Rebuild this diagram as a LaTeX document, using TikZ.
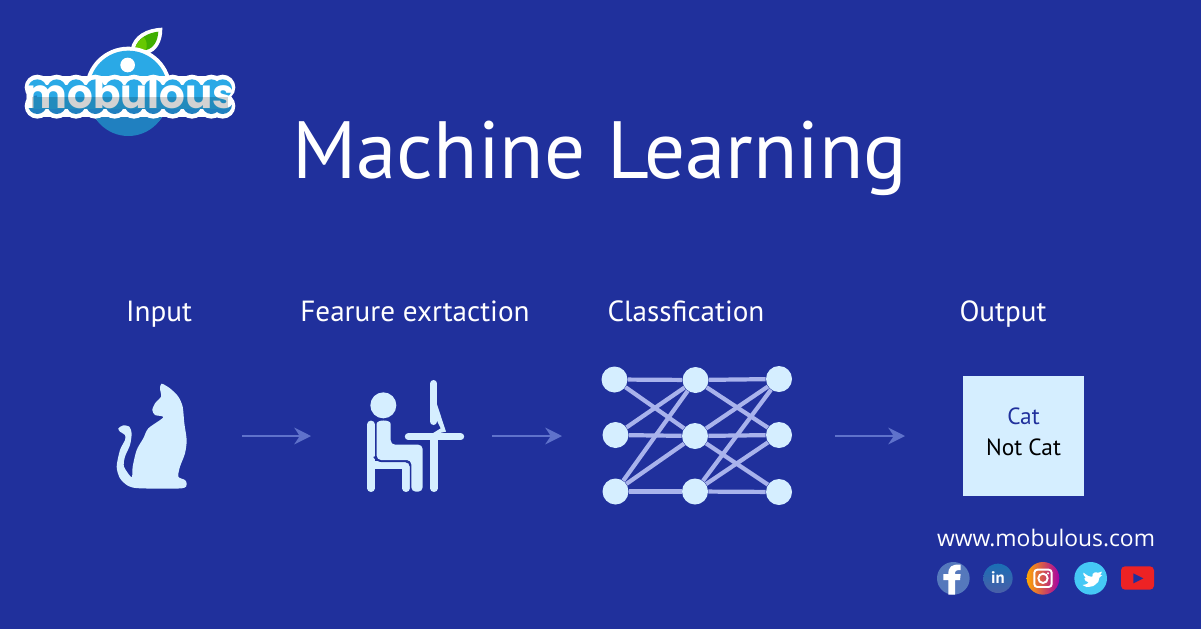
\documentclass[tikz,border=0pt]{standalone}
\usepackage{fontspec}
\setmainfont{PT Sans}
\newfontfamily\logofont{Poppins}
\newfontfamily\sitefont{Open Sans}
\usetikzlibrary{arrows.meta}
\definecolor{bgblue}{HTML}{20309C}
\definecolor{paleblue}{HTML}{D5EEFF}
\definecolor{edgeblue}{HTML}{A9B3EC}
\definecolor{flowblue}{HTML}{5F72CB}
\definecolor{logosky}{HTML}{2AA9E6}
\definecolor{logodeep}{HTML}{2080C0}
\definecolor{leafdark}{HTML}{3FAE00}
\definecolor{leaflight}{HTML}{66C800}
\definecolor{fbblue}{HTML}{5578BC}
\definecolor{inblue}{HTML}{1A6FB5}
\definecolor{inviolet}{HTML}{4A5FA8}
\definecolor{twblue}{HTML}{45C8F5}
\definecolor{ytred}{HTML}{ED2224}
\begin{document}
\begin{tikzpicture}[x=0.02cm,y=-0.02cm]
	\tikzstyle{heading}=[text=white,font=\fontsize{16.6}{18}\selectfont,inner sep=0pt,anchor=base]
	\tikzstyle{neuron}=[circle,inner sep=0pt,minimum width=26*0.02cm,fill=paleblue]
	\tikzstyle{link}=[edgeblue,line width=2.4pt]
	\tikzstyle{flow}=[flowblue,line width=1.2pt,-{Stealth[length=9.5pt,width=9.5pt]}]
	\tikzstyle{limb}=[paleblue,line cap=round,line join=round]
	\useasboundingbox (0,0) rectangle (1201,629);
	\fill[bgblue] (0,0) rectangle (1201,629);

	%% logo
	\begin{scope}[shift={(0,10)},scale=1/3]
		\fill[white] (392,118) .. controls (400,75) and (440,55) .. (487,53) .. controls (488,95) and (470,125) .. (440,132) -- cycle;
		\fill[leafdark] (405,115) .. controls (412,85) and (445,68) .. (475,65) .. controls (473,95) and (460,115) .. (438,120) -- cycle;
		\fill[leaflight] (405,115) .. controls (410,100) and (420,88) .. (432,82) .. controls (442,95) and (442,108) .. (438,120) -- cycle;
		\fill[white] (385,240) circle (130);
		\fill[logosky] (385,240) circle (118);
		\fill[logodeep] (267,260) arc (180:360:118 and -118) -- cycle;
		\fill[white] (383,165) circle (22);
		\foreach \bx in {112,170,228,286,344,402,460,518,576,634,668}{
			\fill[white] (\bx,232) circle (38);
			\fill[white] (\bx,288) circle (38);
		}
		\fill[white] (108,197) rectangle (670,322);
		\foreach \bx in {112,170,228,286,344,402,460,518,576,634,668}{
			\fill[logosky] (\bx,236) circle (28);
			\fill[logodeep] (\bx,284) circle (28);
		}
		\fill[logosky] (112,225) rectangle (668,260);
		\fill[logodeep] (112,260) rectangle (668,295);
		\fill[logosky] (96,260) rectangle (684,298);
		\node[inner sep=0pt,text=white,anchor=base] (logotext) at (390,295) {\fontsize{23}{25}\logofont\bfseries mobulous};
		\begin{scope}[blend mode=multiply]
			\fill[gray!35] (96,260) rectangle (684,298);
		\end{scope}
	\end{scope}

	%% title and headings
	\node[text=white,font=\fontsize{46.2}{50}\selectfont,inner sep=0pt,anchor=base] (title) at (600,178) {Machine Learning};
	\node[heading] (input) at (159,321) {Input};
	\node[heading] (feature) at (415,321) {Fearure exrtaction};
	\node[heading] (classify) at (686,321) {Classfication};
	\node[heading] (output) at (1003,321) {Output};

	%% cat
	\begin{scope}[shift={(90,360)},scale=1/3]
		\fill[paleblue] plot[smooth cycle,tension=0.45] coordinates {(215,71) (240,85) (265,110) (278,140) (283,190) (290,240) (285,280) (270,320) (265,350) (285,360) (290,372) (275,385) (150,385) (115,378) (90,355) (80,320) (90,270) (105,240) (105,225) (90,215) (85,205) (100,196) (118,200) (125,220) (120,255) (105,290) (102,320) (125,352) (128,320) (140,270) (160,235) (175,205) (220,172) (195,165) (187,150) (195,130) (213,110) (210,85)};
	\end{scope}

	%% person at desk
	\begin{scope}[shift={(90,360)},scale=1/3]
		\fill[paleblue] (880,136) circle (39);
		\draw[limb,line width=4.2pt] (843,193) -- (843,385);
		\draw[limb,line width=4.2pt] (843,315) -- (948,315) -- (948,385);
		\draw[bgblue,line width=0.9pt,rounded corners=3pt] (852,290) -- (860,304) -- (962,304) -- (962,390);
		\fill[paleblue,rounded corners=2.5pt] (860,205) .. controls (860,178) and (902,178) .. (902,205) -- (902,254) -- (998,254) -- (998,395) -- (964,395) -- (964,300) -- (860,300) -- cycle;
		\draw[limb,line width=4pt] (955,230) -- (1112,230);
		\draw[limb,line width=4.2pt] (1032,230) -- (1032,385);
		\draw[limb,line width=3.8pt] (1031,70) -- (1031,185);
		\fill[paleblue] (1040,130) -- (1068,215) -- (1020,225) -- (1052,205) -- (1040,180) -- cycle;
	\end{scope}

	%% network
	\node[neuron] (l1) at (614.5,379.5) {};
	\node[neuron] (l2) at (615.5,435) {};
	\node[neuron] (l3) at (615.5,491.5) {};
	\node[neuron] (m1) at (695.5,380) {};
	\node[neuron] (m2) at (695,436) {};
	\node[neuron] (m3) at (695,491.5) {};
	\node[neuron] (r1) at (779,379) {};
	\node[neuron] (r2) at (779,435) {};
	\node[neuron] (r3) at (779,492) {};
	\foreach \a/\b in {l1/m1,l1/m2,l2/m1,l2/m2,l3/m1,l3/m2,l3/m3,m1/r1,m1/r2,m2/r1,m2/r2,m2/r3,m3/r1,m3/r2,m3/r3}
		\draw[link] (\a) -- (\b);

	%% arrows
	\coordinate (flowa) at (242,436);
	\coordinate (flowb) at (311,436);
	\coordinate (flowc) at (492,436);
	\coordinate (flowd) at (562,436);
	\coordinate (flowe) at (835,436);
	\coordinate (flowf) at (905,436);
	\draw[flow] (flowa) -- (flowb);
	\draw[flow] (flowc) -- (flowd);
	\draw[flow] (flowe) -- (flowf);

	%% output box
	\node[fill=paleblue,inner sep=0pt,minimum width=121*0.02cm,minimum height=120*0.02cm] (outbox) at (1023.5,436) {};
	\node[text=bgblue,font=\fontsize{13.3}{15}\selectfont,inner sep=0pt,anchor=base] (cat) at (1023.5,424) {Cat};
	\node[text=black,font=\fontsize{13.3}{15}\selectfont,inner sep=0pt,anchor=base] (notcat) at (1023.5,455) {Not Cat};

	%% footer
	\node[text=white,font=\sitefont\fontsize{13}{15}\selectfont,inner sep=0pt,anchor=base] (site) at (1046,546) {www.mobulous.com};
	\begin{scope}[shift={(920,520)},scale=1/3]
		\fill[fbblue] (100,175) circle (49);
		\fill[white] (85,224) -- (85,180) -- (70,180) -- (70,162) -- (85,162) .. controls (85,140) and (95,132) .. (122,134) -- (122,150) .. controls (108,150) and (105,152) .. (105,162) -- (122,162) -- (120,180) -- (105,180) -- (105,224) -- cycle;
		\shade[top color=inblue,bottom color=inviolet] (234,175) circle (44);
		\node[text=white,inner sep=0pt,font=\fontsize{9.5}{10}\bfseries\selectfont] (linkedin) at (234,174) {in};
		\shade[shading angle=45,left color=orange!70!yellow,middle color=red!50!magenta!80!orange,right color=violet!70!magenta] (369,175) circle (49);
		\draw[white,line width=1.1pt,rounded corners=1.7pt] (343,149) rectangle (395,201);
		\draw[white,line width=1.1pt] (369,175) circle (14);
		\fill[white] (384,160) circle (3.5);
		\fill[twblue] (512,175) circle (49);
		\fill[white] plot[smooth cycle,tension=0.3] coordinates {(535,158) (546,155) (541,165) (547,165) (538,173) (535,185) (520,198) (500,201) (488,195) (498,193) (506,187) (497,183) (493,175) (497,173) (491,165) (490,158) (505,168) (517,170) (518,162) (525,157)};
		\fill[ytred,rounded corners=2.3pt] (603,139) rectangle (702,209);
		\fill[bgblue] (640,160) -- (670,175) -- (640,190) -- cycle;
	\end{scope}
\end{tikzpicture}
\end{document}
